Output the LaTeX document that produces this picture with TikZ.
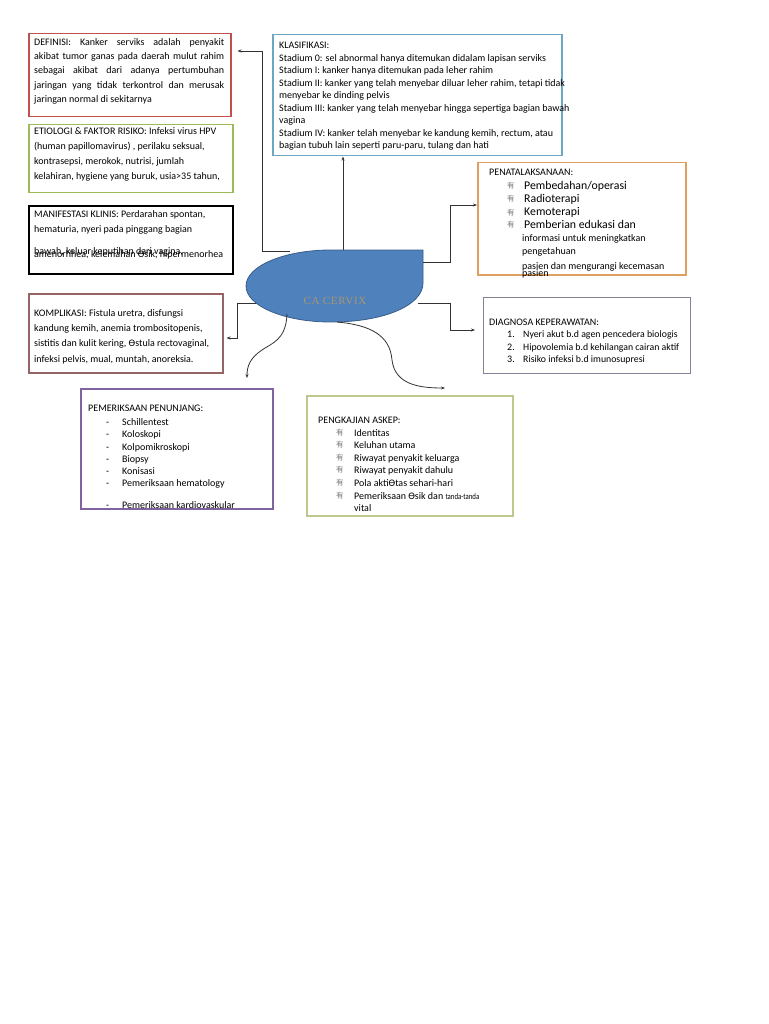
\documentclass[tikz,border=0pt]{standalone}
\usepackage{fontspec}
\setmainfont{Carlito}
\newfontfamily\cjkfont{Noto Sans CJK SC}
\newfontfamily\blobfont[LetterSpace=6]{Liberation Serif}
\usetikzlibrary{arrows.meta,positioning}

\definecolor{defred}{RGB}{192,80,77}
\definecolor{etigreen}{RGB}{155,187,89}
\definecolor{klasblue}{RGB}{110,165,195}
\definecolor{penorange}{RGB}{222,160,95}
\definecolor{kommauve}{RGB}{150,100,100}
\definecolor{diaggrey}{RGB}{130,130,150}
\definecolor{pempurple}{RGB}{128,100,162}
\definecolor{pengolive}{RGB}{190,200,140}
\definecolor{blobfill}{RGB}{79,129,189}
\definecolor{blobline}{RGB}{56,93,138}
\definecolor{blobtext}{RGB}{170,150,110}

\newcommand{\ybul}{{\cjkfont\color{black!55}\fontsize{7.5}{8}\selectfont 有}}

\begin{document}
\begin{tikzpicture}[x=1pt,y=-1pt]
	% Stiler for bokser og tekst
	\tikzset{
		boxline/.style={rectangle, draw, line width=1.5pt, inner sep=0pt, anchor=north west},
		txt/.style={inner sep=0pt, anchor=north west, align=left, text=black, font=\fontsize{10}{12.5}\selectfont},
		line/.style={inner sep=0pt, anchor=base west, text=black, font=\fontsize{10}{11}\selectfont},
		bigline/.style={line, font=\fontsize{11.8}{12}\selectfont},
		arr/.style={thick, black!80, -{Stealth[length=4pt,width=3pt]}}
	}
	\useasboundingbox[fill=white] (0,0) rectangle (768,1024);

	% Boksene til venstre
	\node[boxline, draw=defred,   minimum width=202pt, minimum height=83pt] (defbox)  at (28,33)  {};
	\node[boxline, draw=etigreen, minimum width=204pt, minimum height=68pt] (etibox)  at (28,124) {};
	\node[boxline, draw=black,    line width=2pt, minimum width=204pt, minimum height=68pt] (manbox) at (28,205) {};
	\node[boxline, draw=kommauve, minimum width=194pt, minimum height=79pt] (kombox)  at (28,293) {};

	% Boksene til hoyre og nederst
	\node[boxline, draw=klasblue,  minimum width=289pt, minimum height=121pt] (klasbox) at (272,34)  {};
	\node[boxline, draw=penorange, minimum width=208pt, minimum height=112pt] (penbox)  at (477,162) {};
	\node[boxline, draw=diaggrey,  line width=1pt, minimum width=207pt, minimum height=76pt] (diagbox) at (483,297) {};
	\node[boxline, draw=pempurple, minimum width=192pt, minimum height=120pt] (pembox)  at (80,388)  {};
	\node[boxline, draw=pengolive, minimum width=206pt, minimum height=120pt] (pengbox) at (306,395) {};

	% Tekst i boksene
	\node[txt, font=\fontsize{10}{14.3}\selectfont] (deftext) at (34,38)
		{\makebox[190pt][s]{DEFINISI: Kanker serviks adalah penyakit}\\
		 \makebox[190pt][s]{akibat tumor ganas pada daerah mulut rahim}\\
		 \makebox[190pt][s]{sebagai akibat dari adanya pertumbuhan}\\
		 \makebox[190pt][s]{jaringan yang tidak terkontrol dan merusak}\\
		 jaringan normal di sekitarnya};
	\node[txt, font=\fontsize{10}{15}\selectfont] (etitext) at (34,127)
		{ETIOLOGI \& FAKTOR RISIKO: Infeksi virus HPV\\
		 (human papillomavirus) , perilaku seksual,\\
		 kontrasepsi, merokok, nutrisi, jumlah\\
		 kelahiran, hygiene yang buruk, usia>35 tahun,};
	\node[line] (man1) at (34,218) {MANIFESTASI KLINIS: Perdarahan spontan,};
	\node[line] (man2) at (34,233) {hematuria, nyeri pada pinggang bagian};
	\node[line] (man3) at (34,254) {bawah, keluar keputihan dari vagina,};
	\node[line] (man4) at (34,258) {amenorhhea, kelemahan Ɵsik, hipermenorhea};
	\node[txt, font=\fontsize{10}{15.3}\selectfont] (komtext) at (34,309)
		{KOMPLIKASI: Fistula uretra, disfungsi\\
		 kandung kemih, anemia trombositopenis,\\
		 sistitis dan kulit kering, Ɵstula rectovaginal,\\
		 infeksi pelvis, mual, muntah, anoreksia.};
	\node[txt] (klastext) at (279,42)
		{KLASIFIKASI:\\
		 Stadium 0: sel abnormal hanya ditemukan didalam lapisan serviks\\
		 Stadium I: kanker hanya ditemukan pada leher rahim\\
		 Stadium II: kanker yang telah menyebar diluar leher rahim, tetapi tidak\\
		 menyebar ke dinding pelvis\\
		 Stadium III: kanker yang telah menyebar hingga sepertiga bagian bawah\\
		 vagina\\
		 Stadium IV: kanker telah menyebar ke kandung kemih, rectum, atau\\
		 bagian tubuh lain seperti paru-paru, tulang dan hati};

	% Penatalaksanaan
	\node[line] (pentitle) at (489,176) {PENATALAKSANAAN:};
	\foreach \t [count=\i] in {Pembedahan/operasi, Radioterapi, Kemoterapi, Pemberian edukasi dan} {
		\node[line] (penbul\i) at (507,{176+13*\i}) {\ybul};
		\node[bigline] (pen\i) at (524,{177+13*\i}) {\t};
	}
	\node[line] (pen5) at (522,241) {informasi untuk meningkatkan};
	\node[line] (pen6) at (522,254) {pengetahuan};
	\node[line] (pen7) at (522,269) {pasien dan mengurangi kecemasan};
	\node[line] (pen8) at (522,276) {pasien};

	% Diagnosa
	\node[line] (diagtitle) at (489,325) {DIAGNOSA KEPERAWATAN:};
	\foreach \t/\y [count=\i] in {Nyeri akut b.d agen pencedera biologis/337, Hipovolemia b.d kehilangan cairan aktif/350, Risiko infeksi b.d imunosupresi/362} {
		\node[line] (diagnr\i) at (507,\y) {\i.};
		\node[line, font=\fontsize{9.8}{11}\selectfont] (diag\i) at (523,\y) {\t};
	}

	% Pemeriksaan penunjang
	\node[line] (pemtitle) at (88,411) {PEMERIKSAAN PENUNJANG:};
	\foreach \t/\y [count=\i] in {Schillentest/425, Koloskopi/437, Kolpomikroskopi/450, Biopsy/462, Konisasi/474, Pemeriksaan hematology/486, Pemeriksaan kardiovaskular/508} {
		\node[line] (pemdash\i) at (106,\y) {-};
		\node[line] (pem\i) at (122,\y) {\t};
	}

	% Pengkajian askep
	\node[line] (pengtitle) at (318,423) {PENGKAJIAN ASKEP:};
	\foreach \t/\y [count=\i] in {Identitas/436, Keluhan utama/448, Riwayat penyakit keluarga/461, Riwayat penyakit dahulu/473, Pola aktiƟtas sehari-hari/486, {Pemeriksaan Ɵsik dan \scalebox{0.8}[1]{\fontsize{8.5}{9}\selectfont tanda-tanda}}/499} {
		\node[line] (pengbul\i) at (336,{\y-1}) {\ybul};
		\node[line] (peng\i) at (354,\y) {\t};
	}
	\node[line] (peng7) at (354,511) {vital};

	% Midtfiguren
	\draw[fill=blobfill, draw=blobline, thick] (423,250) -- (331,250)
		arc[start angle=270, end angle=90, x radius=85, y radius=36]
		.. controls (385,322) and (423,305) .. (423,283) -- cycle;
	\node[text=blobtext, font=\blobfont\fontsize{11}{12}\selectfont] (cervix) at (335,301) {CA CERVIX};

	% Koblingspunkter paa figuren
	\coordinate (blobtop) at (343,250);
	\coordinate (blobnw)  at (290,251);
	\coordinate (blobne)  at (423,262);
	\coordinate (blobse)  at (418,303);
	\coordinate (blobsw)  at (256,303);
	\coordinate (blobs1)  at (287,314);
	\coordinate (blobs2)  at (337,322);

	% Piler
	\draw[arr] (blobtop) -- (blobtop |- klasbox.south);
	\draw[arr] (blobnw) -- (262,251) |- ([xshift=6pt]defbox.east |- 0,51);
	\draw[arr] (blobne) -- (450,262) |- (penbox.west |- 0,205);
	\draw[arr] (blobse) -- (450,303) |- ([xshift=-8pt]diagbox.west |- 0,330);
	\draw[arr] (blobsw) -- (237,303) |- ([xshift=3pt]kombox.east |- 0,338);
	\draw[arr] (blobs1) .. controls (286,340) and (272,343) .. (262,350)
		.. controls (250,358) and (247,366) .. (247,378);
	\draw[arr] (blobs2) .. controls (370,325) and (390,335) .. (392,360)
		.. controls (395,385) and (420,388) .. (445,388);
\end{tikzpicture}
\end{document}
